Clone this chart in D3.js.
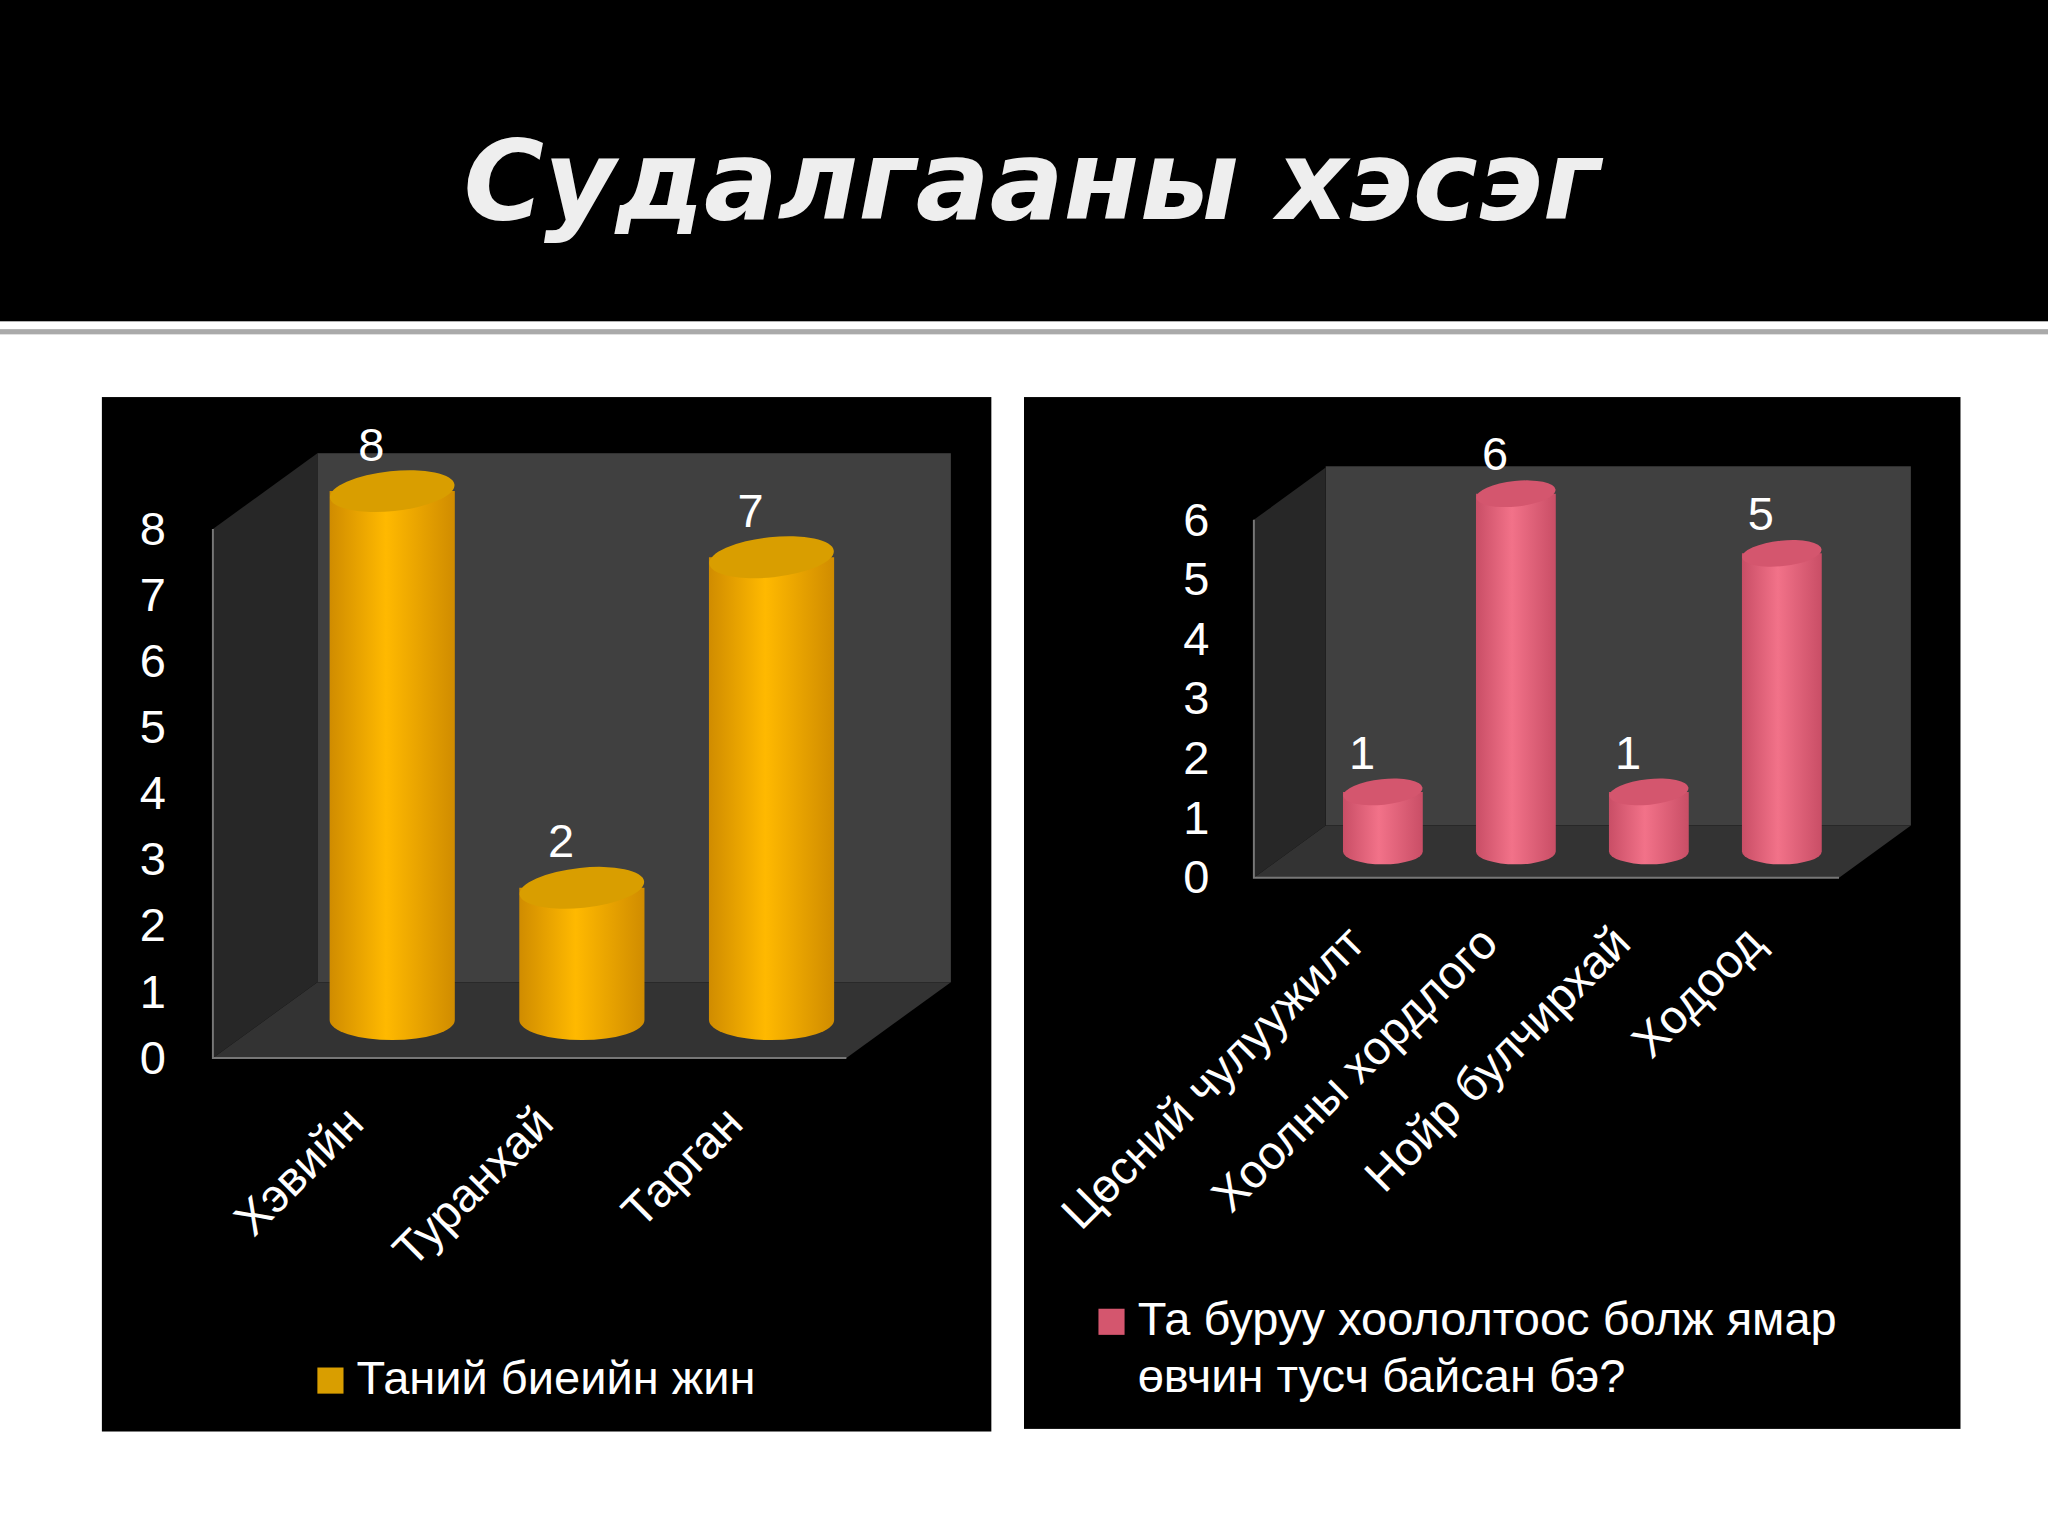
<!DOCTYPE html>
<html><head><meta charset="utf-8">
<script src="https://cdn.jsdelivr.net/npm/d3@7"></script>
<style>body{margin:0;background:#fff}svg{display:block}</style>
</head><body>
<script>
const leftCats = ['Хэвийн', 'Туранхай', 'Тарган'];
const leftValues = [8, 2, 7];
const leftTicks = [0, 1, 2, 3, 4, 5, 6, 7, 8];
const leftLegend = ['Таний биеийн жин'];

const rightCats = ['Цөсний чулуужилт', 'Хоолны хордлого', 'Нойр булчирхай', 'Ходоод'];
const rightValues = [1, 6, 1, 5];
const rightTicks = [0, 1, 2, 3, 4, 5, 6];
const rightLegend = ['Та буруу хоололтоос болж ямар', 'өвчин тусч байсан бэ?'];

const svg = d3.select('body').append('svg')
  .attr('width', 2048).attr('height', 1536)
  .attr('viewBox', '0 0 1568 1176');
const defs = svg.append('defs');
const FONT = 'Liberation Sans, Arial, sans-serif';

svg.append('rect').attr('width', 1568).attr('height', 246).attr('fill', '#000');
svg.append('rect').attr('y', 252).attr('width', 1568).attr('height', 4).attr('fill', '#aaa');
svg.append('text').attr('x', 790).attr('y', 168).attr('text-anchor', 'middle')
  .attr('font-family', 'DejaVu Sans, sans-serif').attr('font-weight', 'bold').attr('font-style', 'italic')
  .attr('font-size', 84).attr('fill', '#eee').text('Судалгааны хэсэг');

function grad(id, edge, mid) {
  const g = defs.append('linearGradient').attr('id', id);
  [[0, edge], [0.45, mid], [1, edge]].forEach(([o, c]) =>
    g.append('stop').attr('offset', o).attr('stop-color', c));
}
grad('gy', '#d08c00', '#ffb900');
grad('gp', '#c94e66', '#f27289');

function chart(o) {
  const g = svg.append('g');
  g.append('rect').attr('x', o.panel[0]).attr('y', o.panel[1])
    .attr('width', o.panel[2]).attr('height', o.panel[3]).attr('fill', '#000');
  const y = d3.scaleLinear().domain([0, o.max]).range([o.y0, o.y1]);
  const dx = o.dx, dy = o.dy;
  const x0 = o.ax, x1 = o.ax + o.w;
  // back wall, side wall, floor
  g.append('rect').attr('x', x0 + dx).attr('y', o.wallTop).attr('width', o.w)
    .attr('height', y(0) + dy - o.wallTop).attr('fill', '#404040');
  g.append('path').attr('d', `M${x0},${y(o.max)}L${x0 + dx},${y(o.max) + dy}L${x0 + dx},${y(0) + dy}L${x0},${y(0)}Z`)
    .attr('fill', '#272727');
  g.append('path').attr('d', `M${x0},${y(0)}L${x0 + dx},${y(0) + dy}L${x1 + dx},${y(0) + dy}L${x1},${y(0)}Z`)
    .attr('fill', '#333');
  g.append('path').attr('d', `M${x0},${y(o.max)}V${y(0)}H${x1}`)
    .attr('fill', 'none').attr('stroke', '#777').attr('stroke-width', 1.5);

  g.selectAll('.tick').data(o.ticks).join('text')
    .attr('x', o.tickX).attr('y', d => y(d) + 12).attr('text-anchor', 'middle')
    .attr('font-family', FONT).attr('font-size', 36).attr('fill', '#fff').text(d => d);

  const xb = d3.scaleBand().domain(o.cats).range([x0 + dx / 2, x1 + dx / 2]).padding(o.pad);
  const bw = xb.bandwidth(), ry = bw * 0.16, base = dy / 2;
  o.cats.forEach((c, i) => {
    const cx = xb(c) + bw / 2, top = y(o.values[i]) + base, bot = y(0) + base;
    g.append('path')
      .attr('d', `M${cx - bw / 2},${top}V${bot}A${bw / 2},${ry} 0 0 0 ${cx + bw / 2},${bot}V${top}Z`)
      .attr('fill', `url(#${o.grad})`);
    g.append('ellipse').attr('cx', cx).attr('cy', top).attr('rx', bw / 2).attr('ry', ry)
      .attr('transform', `rotate(-6 ${cx} ${top})`).attr('fill', o.topColor);
    g.append('text').attr('x', cx - 16).attr('y', top - ry - 8).attr('text-anchor', 'middle')
      .attr('font-family', FONT).attr('font-size', 36).attr('fill', '#fff').text(o.values[i]);
    g.append('text')
      .attr('transform', `translate(${cx + o.labOff[0]},${y(0) + o.labOff[1]}) rotate(-45)`)
      .attr('text-anchor', 'end').attr('font-family', FONT).attr('font-size', 36)
      .attr('fill', '#fff').text(c);
  });

  g.append('rect').attr('x', o.leg[0]).attr('y', o.leg[1] - 20).attr('width', 20).attr('height', 20)
    .attr('fill', o.topColor);
  o.legend.forEach((t, i) => g.append('text').attr('x', o.leg[0] + 30).attr('y', o.leg[1] + i * 44)
    .attr('font-family', FONT).attr('font-size', 36).attr('fill', '#fff').text(t));
}

chart({
  panel: [78, 304, 681, 792], cats: leftCats, values: leftValues, ticks: leftTicks, max: 8,
  y0: 810, y1: 405, ax: 163, w: 485, dx: 80, dy: -58, wallTop: 347, tickX: 117, pad: 0.34,
  grad: 'gy', topColor: '#d99e00', labOff: [-20, 52], leg: [243, 1067], legend: leftLegend
});
chart({
  panel: [784, 304, 717, 790], cats: rightCats, values: rightValues, ticks: rightTicks, max: 6,
  y0: 672, y1: 398, ax: 960, w: 448, dx: 55, dy: -40, wallTop: 357, tickX: 916, pad: 0.4,
  grad: 'gp', topColor: '#d4566e', labOff: [-12, 52], leg: [841, 1022], legend: rightLegend
});
</script>
</body></html>
